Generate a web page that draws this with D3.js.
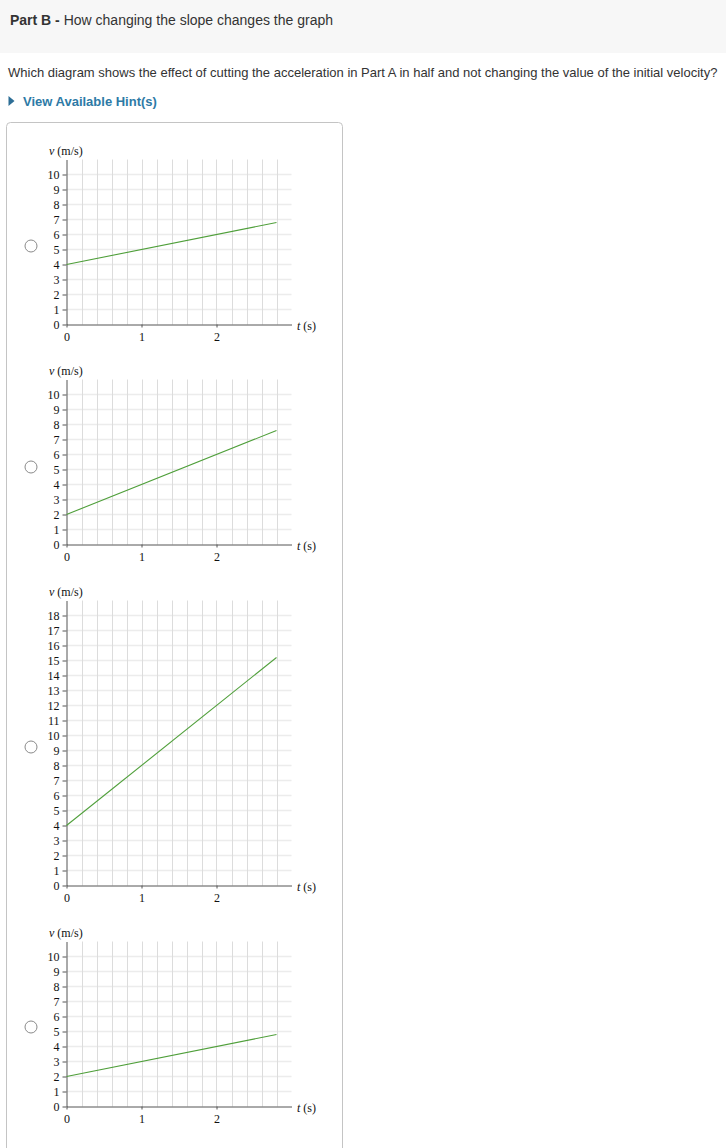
<!DOCTYPE html>
<html>
<head>
<meta charset="utf-8">
<script src="https://cdn.jsdelivr.net/npm/d3@7"></script>
<style>
  html, body { margin: 0; padding: 0; background: #fff; }
  svg { display: block; }
  .sans { font-family: "Liberation Sans", Arial, Helvetica, sans-serif; }
  .serif { font-family: "Liberation Serif", "Times New Roman", serif; }
</style>
</head>
<body>
<svg id="page" width="726" height="1148"></svg>
<script>
// ---------- data ----------
const titleBold = "Part B -";
const titleRest = " How changing the slope changes the graph";
const questionText = "Which diagram shows the effect of cutting the acceleration in Part A in half and not changing the value of the initial velocity?";
const hintText = "View Available Hint(s)";

const tPoints = [0, 2.8];               // line start / end times (s)
const series1 = [4, 6.8];               // v = 4 + t
const series2 = [2, 7.6];               // v = 2 + 2t
const series3 = [4, 15.2];              // v = 4 + 4t
const series4 = [2, 4.8];               // v = 2 + t
const yMaxes = [11, 11, 19, 11];
const yTicks10 = [0, 1, 2, 3, 4, 5, 6, 7, 8, 9, 10];
const yTicks18 = [0, 1, 2, 3, 4, 5, 6, 7, 8, 9, 10, 11, 12, 13, 14, 15, 16, 17, 18];
const xTickLabels = [0, 1, 2];
const xGrid = [0.2, 0.4, 0.6, 0.8, 1, 1.2, 1.4, 1.6, 1.8, 2, 2.2, 2.4, 2.6, 2.8];
const yLabel = ["v", " (m/s)"];
const xLabel = ["t", " (s)"];

// ---------- layout ----------
const svg = d3.select("#page");
const W = 726;

// header band
svg.append("rect").attr("x", 0).attr("y", 0).attr("width", W).attr("height", 53).attr("fill", "#f7f7f7");
const title = svg.append("text").attr("class", "sans").attr("x", 10).attr("y", 25)
  .attr("font-size", 14).attr("fill", "#333");
title.append("tspan").attr("font-weight", "bold").text(titleBold);
title.append("tspan").text(titleRest);

svg.append("text").attr("class", "sans").attr("x", 8).attr("y", 77)
  .attr("font-size", 13).attr("fill", "#333").text(questionText);

// hint
svg.append("path").attr("d", "M8.5,96 L14.5,101 L8.5,106 Z").attr("fill", "#2d6e96");
svg.append("text").attr("class", "sans").attr("x", 23).attr("y", 106)
  .attr("font-size", 13).attr("font-weight", "bold").attr("fill", "#2d7aa6").text(hintText);

// panel
svg.append("rect").attr("x", 6.5).attr("y", 122.5).attr("width", 336).attr("height", 1100)
  .attr("rx", 4).attr("fill", "#fff").attr("stroke", "#c4c4c4");

const charts = [
  { series: series1, yMax: yMaxes[0], ticks: yTicks10, zero: 324, radio: 246 },
  { series: series2, yMax: yMaxes[1], ticks: yTicks10, zero: 544, radio: 467 },
  { series: series3, yMax: yMaxes[2], ticks: yTicks18, zero: 885, radio: 747 },
  { series: series4, yMax: yMaxes[3], ticks: yTicks10, zero: 1106, radio: 1027 }
];

const x = d3.scaleLinear().domain([0, 3]).range([66.5, 291.5]);
const unit = 15;

charts.forEach(c => {
  const y = d3.scaleLinear().domain([0, c.yMax]).range([c.zero + 0.5, c.zero + 0.5 - c.yMax * unit]);
  const g = svg.append("g");

  // radio button
  svg.append("circle").attr("cx", 31).attr("cy", c.radio).attr("r", 6)
    .attr("fill", "#fff").attr("stroke", "#8a8a8a").attr("stroke-width", 1);

  // horizontal gridlines
  g.selectAll(".hg").data(c.ticks.filter(d => d > 0)).enter().append("line")
    .attr("x1", x(0)).attr("x2", x(3))
    .attr("y1", d => y(d)).attr("y2", d => y(d))
    .attr("stroke", "#ececec").attr("stroke-width", 1.5);

  // vertical gridlines
  g.selectAll(".vg").data(xGrid).enter().append("line")
    .attr("x1", d => Math.round(x(d)) + 0.5).attr("x2", d => Math.round(x(d)) + 0.5)
    .attr("y1", y(0)).attr("y2", y(c.yMax))
    .attr("stroke", "#dcdcdc").attr("stroke-width", 1);

  // y axis
  const ya = g.append("g").attr("transform", `translate(${x(0)},0)`)
    .call(d3.axisLeft(y).tickValues(c.ticks).tickSize(4).tickSizeOuter(0).tickPadding(3).tickFormat(d3.format("d")));
  ya.select(".domain").attr("stroke", "#555");
  ya.selectAll(".tick line").attr("stroke", "#555");
  ya.selectAll(".tick text").attr("class", "serif").attr("font-size", 12).attr("fill", "#111")
    .attr("dy", "0.34em");

  // x axis
  const xa = g.append("g").attr("transform", `translate(0,${y(0)})`)
    .call(d3.axisBottom(x).tickValues(xTickLabels).tickSize(3).tickSizeOuter(0).tickPadding(5).tickFormat(d3.format("d")));
  xa.select(".domain").attr("stroke", "#555");
  xa.selectAll(".tick line").attr("stroke", "#555");
  xa.selectAll(".tick text").attr("class", "serif").attr("font-size", 12).attr("fill", "#111");

  // axis titles
  const yl = g.append("text").attr("class", "serif").attr("x", 49).attr("y", y(c.yMax) - 5)
    .attr("font-size", 12).attr("fill", "#111");
  yl.append("tspan").attr("font-style", "italic").text(yLabel[0]);
  yl.append("tspan").text(yLabel[1]);

  const xl = g.append("text").attr("class", "serif").attr("x", 297).attr("y", y(0) + 5)
    .attr("font-size", 12).attr("fill", "#111");
  xl.append("tspan").attr("font-style", "italic").text(xLabel[0]);
  xl.append("tspan").text(xLabel[1]);

  // data line
  const pts = tPoints.map((t, i) => [t, c.series[i]]);
  g.append("path").datum(pts)
    .attr("d", d3.line().x(d => x(d[0])).y(d => y(d[1])))
    .attr("fill", "none").attr("stroke", "#4f9f3a").attr("stroke-width", 1.1);
});
</script>
</body>
</html>
